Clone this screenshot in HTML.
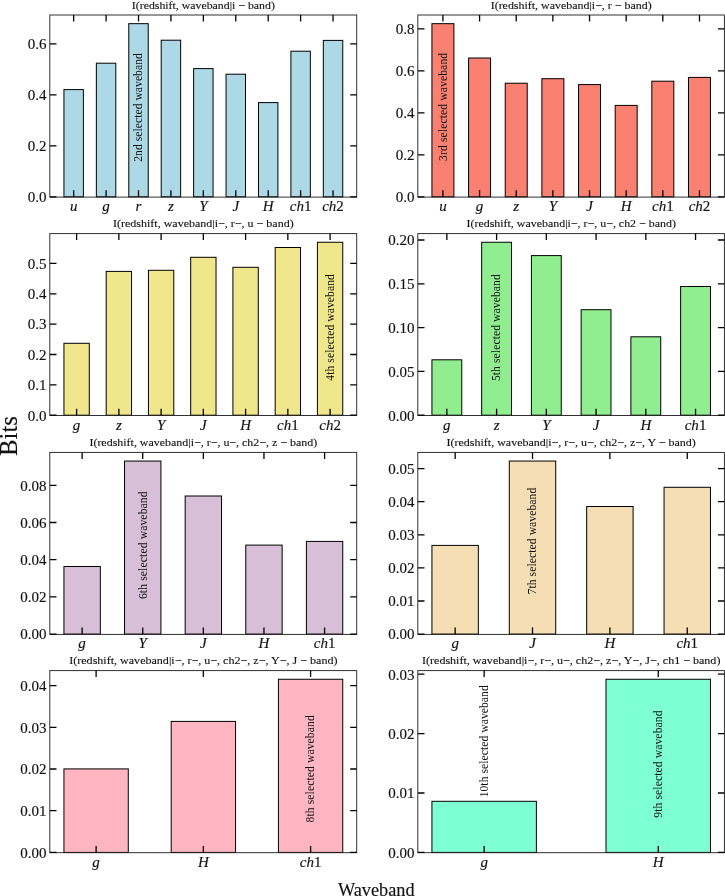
<!DOCTYPE html>
<html><head><meta charset="utf-8"><title>Waveband selection</title>
<style>
html,body{margin:0;padding:0;background:#fff;}
svg{display:block;}
text{font-family:"Liberation Serif",serif;fill:#111;stroke:#111;stroke-width:0.15px;}
.tl{font-size:15.0px;}
.tt{font-size:11.0px;stroke-width:0.12px;}
.ann{font-size:11.6px;stroke-width:0;}
.big{font-size:21px;}
</style></head><body>
<svg width="725" height="896" viewBox="0 0 725 896">
<rect width="725" height="896" fill="#fff"/>
<rect x="63.94" y="89.6" width="19.45" height="107.2" fill="#add8e6" stroke="#000" stroke-width="1.0"/>
<rect x="96.36" y="63.2" width="19.45" height="133.6" fill="#add8e6" stroke="#000" stroke-width="1.0"/>
<rect x="128.78" y="23.66" width="19.45" height="173.14" fill="#add8e6" stroke="#000" stroke-width="1.0"/>
<rect x="161.2" y="40.2" width="19.45" height="156.6" fill="#add8e6" stroke="#000" stroke-width="1.0"/>
<rect x="193.62" y="68.6" width="19.45" height="128.2" fill="#add8e6" stroke="#000" stroke-width="1.0"/>
<rect x="226.04" y="74.2" width="19.45" height="122.6" fill="#add8e6" stroke="#000" stroke-width="1.0"/>
<rect x="258.47" y="102.6" width="19.45" height="94.2" fill="#add8e6" stroke="#000" stroke-width="1.0"/>
<rect x="290.89" y="51.2" width="19.45" height="145.6" fill="#add8e6" stroke="#000" stroke-width="1.0"/>
<rect x="323.31" y="40.4" width="19.45" height="156.4" fill="#add8e6" stroke="#000" stroke-width="1.0"/>
<text class="ann" transform="translate(142.31,107.5) rotate(-90)" text-anchor="middle" textLength="108.6" lengthAdjust="spacing">2nd selected waveband</text>
<rect x="49.8" y="15" width="306.9" height="182.1" fill="none" stroke="#262626" stroke-width="0.95"/>
<path d="M73.67 196.8v-6.5M73.67 15v6.5M106.09 196.8v-6.5M106.09 15v6.5M138.51 196.8v-6.5M138.51 15v6.5M170.93 196.8v-6.5M170.93 15v6.5M203.35 196.8v-6.5M203.35 15v6.5M235.77 196.8v-6.5M235.77 15v6.5M268.19 196.8v-6.5M268.19 15v6.5M300.61 196.8v-6.5M300.61 15v6.5M333.03 196.8v-6.5M333.03 15v6.5M50 196.8h6.5M356.7 196.8h-6.5M50 145.8h6.5M356.7 145.8h-6.5M50 94.8h6.5M356.7 94.8h-6.5M50 43.8h6.5M356.7 43.8h-6.5" stroke="#000" stroke-width="1.3" fill="none"/>
<text class="tl" x="46.4" y="202.1" text-anchor="end">0.0</text>
<text class="tl" x="46.4" y="151.1" text-anchor="end">0.2</text>
<text class="tl" x="46.4" y="100.1" text-anchor="end">0.4</text>
<text class="tl" x="46.4" y="49.1" text-anchor="end">0.6</text>
<text class="tl" x="73.67" y="211.1" text-anchor="middle" font-style="italic">u</text>
<text class="tl" x="106.09" y="211.1" text-anchor="middle" font-style="italic">g</text>
<text class="tl" x="138.51" y="211.1" text-anchor="middle" font-style="italic">r</text>
<text class="tl" x="170.93" y="211.1" text-anchor="middle" font-style="italic">z</text>
<text class="tl" x="203.35" y="211.1" text-anchor="middle" font-style="italic">Y</text>
<text class="tl" x="235.77" y="211.1" text-anchor="middle" font-style="italic">J</text>
<text class="tl" x="268.19" y="211.1" text-anchor="middle" font-style="italic">H</text>
<text class="tl" x="300.61" y="211.1" text-anchor="middle"><tspan font-style="italic">ch</tspan>1</text>
<text class="tl" x="333.03" y="211.1" text-anchor="middle"><tspan font-style="italic">ch</tspan>2</text>
<text class="tt" x="203.35" y="8.5" text-anchor="middle" textLength="143" lengthAdjust="spacingAndGlyphs">I(redshift, waveband|i − band)</text>
<rect x="431.93" y="23.66" width="21.99" height="173.14" fill="#fa8072" stroke="#000" stroke-width="1.0"/>
<rect x="468.58" y="58" width="21.99" height="138.8" fill="#fa8072" stroke="#000" stroke-width="1.0"/>
<rect x="505.23" y="83.2" width="21.99" height="113.6" fill="#fa8072" stroke="#000" stroke-width="1.0"/>
<rect x="541.88" y="78.7" width="21.99" height="118.1" fill="#fa8072" stroke="#000" stroke-width="1.0"/>
<rect x="578.53" y="84.6" width="21.99" height="112.2" fill="#fa8072" stroke="#000" stroke-width="1.0"/>
<rect x="615.18" y="105.4" width="21.99" height="91.4" fill="#fa8072" stroke="#000" stroke-width="1.0"/>
<rect x="651.83" y="81.2" width="21.99" height="115.6" fill="#fa8072" stroke="#000" stroke-width="1.0"/>
<rect x="688.48" y="77.4" width="21.99" height="119.4" fill="#fa8072" stroke="#000" stroke-width="1.0"/>
<text class="ann" transform="translate(446.72,106.9) rotate(-90)" text-anchor="middle" textLength="108" lengthAdjust="spacing">3rd selected waveband</text>
<rect x="417.8" y="15" width="306.6" height="182.1" fill="none" stroke="#262626" stroke-width="0.95"/>
<path d="M442.92 196.8v-6.5M442.92 15v6.5M479.57 196.8v-6.5M479.57 15v6.5M516.22 196.8v-6.5M516.22 15v6.5M552.87 196.8v-6.5M552.87 15v6.5M589.53 196.8v-6.5M589.53 15v6.5M626.18 196.8v-6.5M626.18 15v6.5M662.83 196.8v-6.5M662.83 15v6.5M699.48 196.8v-6.5M699.48 15v6.5M418 196.8h6.5M724.4 196.8h-6.5M418 154.8h6.5M724.4 154.8h-6.5M418 112.8h6.5M724.4 112.8h-6.5M418 70.8h6.5M724.4 70.8h-6.5M418 28.8h6.5M724.4 28.8h-6.5" stroke="#000" stroke-width="1.3" fill="none"/>
<text class="tl" x="414.4" y="202.1" text-anchor="end">0.0</text>
<text class="tl" x="414.4" y="160.1" text-anchor="end">0.2</text>
<text class="tl" x="414.4" y="118.1" text-anchor="end">0.4</text>
<text class="tl" x="414.4" y="76.1" text-anchor="end">0.6</text>
<text class="tl" x="414.4" y="34.1" text-anchor="end">0.8</text>
<text class="tl" x="442.92" y="211.1" text-anchor="middle" font-style="italic">u</text>
<text class="tl" x="479.57" y="211.1" text-anchor="middle" font-style="italic">g</text>
<text class="tl" x="516.22" y="211.1" text-anchor="middle" font-style="italic">z</text>
<text class="tl" x="552.87" y="211.1" text-anchor="middle" font-style="italic">Y</text>
<text class="tl" x="589.53" y="211.1" text-anchor="middle" font-style="italic">J</text>
<text class="tl" x="626.18" y="211.1" text-anchor="middle" font-style="italic">H</text>
<text class="tl" x="662.83" y="211.1" text-anchor="middle"><tspan font-style="italic">ch</tspan>1</text>
<text class="tl" x="699.48" y="211.1" text-anchor="middle"><tspan font-style="italic">ch</tspan>2</text>
<text class="tt" x="571.2" y="8.5" text-anchor="middle" textLength="161" lengthAdjust="spacingAndGlyphs">I(redshift, waveband|i−, r − band)</text>
<rect x="63.94" y="343.3" width="25.35" height="71.9" fill="#f0e68c" stroke="#000" stroke-width="1.0"/>
<rect x="106.19" y="271.4" width="25.35" height="143.8" fill="#f0e68c" stroke="#000" stroke-width="1.0"/>
<rect x="148.43" y="270.3" width="25.35" height="144.9" fill="#f0e68c" stroke="#000" stroke-width="1.0"/>
<rect x="190.68" y="257.3" width="25.35" height="157.9" fill="#f0e68c" stroke="#000" stroke-width="1.0"/>
<rect x="232.92" y="267.3" width="25.35" height="147.9" fill="#f0e68c" stroke="#000" stroke-width="1.0"/>
<rect x="275.17" y="247.5" width="25.35" height="167.7" fill="#f0e68c" stroke="#000" stroke-width="1.0"/>
<rect x="317.41" y="242.25" width="25.35" height="172.95" fill="#f0e68c" stroke="#000" stroke-width="1.0"/>
<text class="ann" transform="translate(333.89,327.45) rotate(-90)" text-anchor="middle" textLength="106.5" lengthAdjust="spacing">4th selected waveband</text>
<rect x="49.8" y="233.6" width="306.9" height="181.9" fill="none" stroke="#262626" stroke-width="0.95"/>
<path d="M76.61 415.2v-6.5M76.61 233.6v6.5M118.86 415.2v-6.5M118.86 233.6v6.5M161.1 415.2v-6.5M161.1 233.6v6.5M203.35 415.2v-6.5M203.35 233.6v6.5M245.6 415.2v-6.5M245.6 233.6v6.5M287.84 415.2v-6.5M287.84 233.6v6.5M330.09 415.2v-6.5M330.09 233.6v6.5M50 415.2h6.5M356.7 415.2h-6.5M50 384.85h6.5M356.7 384.85h-6.5M50 354.5h6.5M356.7 354.5h-6.5M50 324.15h6.5M356.7 324.15h-6.5M50 293.8h6.5M356.7 293.8h-6.5M50 263.45h6.5M356.7 263.45h-6.5" stroke="#000" stroke-width="1.3" fill="none"/>
<text class="tl" x="46.4" y="420.5" text-anchor="end">0.0</text>
<text class="tl" x="46.4" y="390.15" text-anchor="end">0.1</text>
<text class="tl" x="46.4" y="359.8" text-anchor="end">0.2</text>
<text class="tl" x="46.4" y="329.45" text-anchor="end">0.3</text>
<text class="tl" x="46.4" y="299.1" text-anchor="end">0.4</text>
<text class="tl" x="46.4" y="268.75" text-anchor="end">0.5</text>
<text class="tl" x="76.61" y="429.5" text-anchor="middle" font-style="italic">g</text>
<text class="tl" x="118.86" y="429.5" text-anchor="middle" font-style="italic">z</text>
<text class="tl" x="161.1" y="429.5" text-anchor="middle" font-style="italic">Y</text>
<text class="tl" x="203.35" y="429.5" text-anchor="middle" font-style="italic">J</text>
<text class="tl" x="245.6" y="429.5" text-anchor="middle" font-style="italic">H</text>
<text class="tl" x="287.84" y="429.5" text-anchor="middle"><tspan font-style="italic">ch</tspan>1</text>
<text class="tl" x="330.09" y="429.5" text-anchor="middle"><tspan font-style="italic">ch</tspan>2</text>
<text class="tt" x="203.35" y="227.1" text-anchor="middle" textLength="180.6" lengthAdjust="spacingAndGlyphs">I(redshift, waveband|i−, r−, u − band)</text>
<rect x="431.93" y="359.8" width="29.84" height="55.4" fill="#90ee90" stroke="#000" stroke-width="1.0"/>
<rect x="481.67" y="242.25" width="29.84" height="172.95" fill="#90ee90" stroke="#000" stroke-width="1.0"/>
<rect x="531.41" y="255.6" width="29.84" height="159.6" fill="#90ee90" stroke="#000" stroke-width="1.0"/>
<rect x="581.15" y="309.7" width="29.84" height="105.5" fill="#90ee90" stroke="#000" stroke-width="1.0"/>
<rect x="630.89" y="336.8" width="29.84" height="78.4" fill="#90ee90" stroke="#000" stroke-width="1.0"/>
<rect x="680.63" y="286.5" width="29.84" height="128.7" fill="#90ee90" stroke="#000" stroke-width="1.0"/>
<text class="ann" transform="translate(500.39,327.65) rotate(-90)" text-anchor="middle" textLength="106.9" lengthAdjust="spacing">5th selected waveband</text>
<rect x="417.8" y="233.6" width="306.6" height="181.9" fill="none" stroke="#262626" stroke-width="0.95"/>
<path d="M446.85 415.2v-6.5M446.85 233.6v6.5M496.59 415.2v-6.5M496.59 233.6v6.5M546.33 415.2v-6.5M546.33 233.6v6.5M596.07 415.2v-6.5M596.07 233.6v6.5M645.81 415.2v-6.5M645.81 233.6v6.5M695.55 415.2v-6.5M695.55 233.6v6.5M418 415.2h6.5M724.4 415.2h-6.5M418 371.4h6.5M724.4 371.4h-6.5M418 327.6h6.5M724.4 327.6h-6.5M418 283.8h6.5M724.4 283.8h-6.5M418 240h6.5M724.4 240h-6.5" stroke="#000" stroke-width="1.3" fill="none"/>
<text class="tl" x="414.4" y="420.5" text-anchor="end">0.00</text>
<text class="tl" x="414.4" y="376.7" text-anchor="end">0.05</text>
<text class="tl" x="414.4" y="332.9" text-anchor="end">0.10</text>
<text class="tl" x="414.4" y="289.1" text-anchor="end">0.15</text>
<text class="tl" x="414.4" y="245.3" text-anchor="end">0.20</text>
<text class="tl" x="446.85" y="429.5" text-anchor="middle" font-style="italic">g</text>
<text class="tl" x="496.59" y="429.5" text-anchor="middle" font-style="italic">z</text>
<text class="tl" x="546.33" y="429.5" text-anchor="middle" font-style="italic">Y</text>
<text class="tl" x="596.07" y="429.5" text-anchor="middle" font-style="italic">J</text>
<text class="tl" x="645.81" y="429.5" text-anchor="middle" font-style="italic">H</text>
<text class="tl" x="695.55" y="429.5" text-anchor="middle"><tspan font-style="italic">ch</tspan>1</text>
<text class="tt" x="571.2" y="227.1" text-anchor="middle" textLength="209.4" lengthAdjust="spacingAndGlyphs">I(redshift, waveband|i−, r−, u−, ch2 − band)</text>
<rect x="63.94" y="566.5" width="36.37" height="67.6" fill="#d8bfd8" stroke="#000" stroke-width="1.0"/>
<rect x="124.55" y="461.05" width="36.37" height="173.05" fill="#d8bfd8" stroke="#000" stroke-width="1.0"/>
<rect x="185.17" y="496" width="36.37" height="138.1" fill="#d8bfd8" stroke="#000" stroke-width="1.0"/>
<rect x="245.78" y="545.1" width="36.37" height="89" fill="#d8bfd8" stroke="#000" stroke-width="1.0"/>
<rect x="306.39" y="541.4" width="36.37" height="92.7" fill="#d8bfd8" stroke="#000" stroke-width="1.0"/>
<text class="ann" transform="translate(146.54,545.25) rotate(-90)" text-anchor="middle" textLength="107.7" lengthAdjust="spacing">6th selected waveband</text>
<rect x="49.8" y="452.4" width="306.9" height="182" fill="none" stroke="#262626" stroke-width="0.95"/>
<path d="M82.12 634.1v-6.5M82.12 452.4v6.5M142.74 634.1v-6.5M142.74 452.4v6.5M203.35 634.1v-6.5M203.35 452.4v6.5M263.96 634.1v-6.5M263.96 452.4v6.5M324.58 634.1v-6.5M324.58 452.4v6.5M50 634.1h6.5M356.7 634.1h-6.5M50 596.9h6.5M356.7 596.9h-6.5M50 559.7h6.5M356.7 559.7h-6.5M50 522.5h6.5M356.7 522.5h-6.5M50 485.3h6.5M356.7 485.3h-6.5" stroke="#000" stroke-width="1.3" fill="none"/>
<text class="tl" x="46.4" y="639.4" text-anchor="end">0.00</text>
<text class="tl" x="46.4" y="602.2" text-anchor="end">0.02</text>
<text class="tl" x="46.4" y="565" text-anchor="end">0.04</text>
<text class="tl" x="46.4" y="527.8" text-anchor="end">0.06</text>
<text class="tl" x="46.4" y="490.6" text-anchor="end">0.08</text>
<text class="tl" x="82.12" y="648.4" text-anchor="middle" font-style="italic">g</text>
<text class="tl" x="142.74" y="648.4" text-anchor="middle" font-style="italic">Y</text>
<text class="tl" x="203.35" y="648.4" text-anchor="middle" font-style="italic">J</text>
<text class="tl" x="263.96" y="648.4" text-anchor="middle" font-style="italic">H</text>
<text class="tl" x="324.58" y="648.4" text-anchor="middle"><tspan font-style="italic">ch</tspan>1</text>
<text class="tt" x="203.35" y="445.9" text-anchor="middle" textLength="227.8" lengthAdjust="spacingAndGlyphs">I(redshift, waveband|i−, r−, u−, ch2−, z − band)</text>
<rect x="431.93" y="545.4" width="46.42" height="88.7" fill="#f5deb3" stroke="#000" stroke-width="1.0"/>
<rect x="509.3" y="461.05" width="46.42" height="173.05" fill="#f5deb3" stroke="#000" stroke-width="1.0"/>
<rect x="586.67" y="506.5" width="46.42" height="127.6" fill="#f5deb3" stroke="#000" stroke-width="1.0"/>
<rect x="664.05" y="487.3" width="46.42" height="146.8" fill="#f5deb3" stroke="#000" stroke-width="1.0"/>
<text class="ann" transform="translate(536.31,541.1) rotate(-90)" text-anchor="middle" textLength="106.8" lengthAdjust="spacing">7th selected waveband</text>
<rect x="417.8" y="452.4" width="306.6" height="182" fill="none" stroke="#262626" stroke-width="0.95"/>
<path d="M455.14 634.1v-6.5M455.14 452.4v6.5M532.51 634.1v-6.5M532.51 452.4v6.5M609.89 634.1v-6.5M609.89 452.4v6.5M687.26 634.1v-6.5M687.26 452.4v6.5M418 634.1h6.5M724.4 634.1h-6.5M418 601h6.5M724.4 601h-6.5M418 567.9h6.5M724.4 567.9h-6.5M418 534.8h6.5M724.4 534.8h-6.5M418 501.7h6.5M724.4 501.7h-6.5M418 468.6h6.5M724.4 468.6h-6.5" stroke="#000" stroke-width="1.3" fill="none"/>
<text class="tl" x="414.4" y="639.4" text-anchor="end">0.00</text>
<text class="tl" x="414.4" y="606.3" text-anchor="end">0.01</text>
<text class="tl" x="414.4" y="573.2" text-anchor="end">0.02</text>
<text class="tl" x="414.4" y="540.1" text-anchor="end">0.03</text>
<text class="tl" x="414.4" y="507" text-anchor="end">0.04</text>
<text class="tl" x="414.4" y="473.9" text-anchor="end">0.05</text>
<text class="tl" x="455.14" y="648.4" text-anchor="middle" font-style="italic">g</text>
<text class="tl" x="532.51" y="648.4" text-anchor="middle" font-style="italic">J</text>
<text class="tl" x="609.89" y="648.4" text-anchor="middle" font-style="italic">H</text>
<text class="tl" x="687.26" y="648.4" text-anchor="middle"><tspan font-style="italic">ch</tspan>1</text>
<text class="tt" x="571.2" y="445.9" text-anchor="middle" textLength="249.3" lengthAdjust="spacingAndGlyphs">I(redshift, waveband|i−, r−, u−, ch2−, z−, Y − band)</text>
<rect x="63.94" y="768.9" width="64.34" height="83.5" fill="#ffb6c1" stroke="#000" stroke-width="1.0"/>
<rect x="171.18" y="721.4" width="64.34" height="131" fill="#ffb6c1" stroke="#000" stroke-width="1.0"/>
<rect x="278.42" y="679.26" width="64.34" height="173.14" fill="#ffb6c1" stroke="#000" stroke-width="1.0"/>
<text class="ann" transform="translate(314.39,768.9) rotate(-90)" text-anchor="middle" textLength="107.2" lengthAdjust="spacing">8th selected waveband</text>
<rect x="49.8" y="670.6" width="306.9" height="182.1" fill="none" stroke="#262626" stroke-width="0.95"/>
<path d="M96.11 852.4v-6.5M96.11 670.6v6.5M203.35 852.4v-6.5M203.35 670.6v6.5M310.59 852.4v-6.5M310.59 670.6v6.5M50 852.4h6.5M356.7 852.4h-6.5M50 810.7h6.5M356.7 810.7h-6.5M50 769h6.5M356.7 769h-6.5M50 727.3h6.5M356.7 727.3h-6.5M50 685.6h6.5M356.7 685.6h-6.5" stroke="#000" stroke-width="1.3" fill="none"/>
<text class="tl" x="46.4" y="857.7" text-anchor="end">0.00</text>
<text class="tl" x="46.4" y="816" text-anchor="end">0.01</text>
<text class="tl" x="46.4" y="774.3" text-anchor="end">0.02</text>
<text class="tl" x="46.4" y="732.6" text-anchor="end">0.03</text>
<text class="tl" x="46.4" y="690.9" text-anchor="end">0.04</text>
<text class="tl" x="96.11" y="866.7" text-anchor="middle" font-style="italic">g</text>
<text class="tl" x="203.35" y="866.7" text-anchor="middle" font-style="italic">H</text>
<text class="tl" x="310.59" y="866.7" text-anchor="middle"><tspan font-style="italic">ch</tspan>1</text>
<text class="tt" x="203.35" y="664.1" text-anchor="middle" textLength="268.2" lengthAdjust="spacingAndGlyphs">I(redshift, waveband|i−, r−, u−, ch2−, z−, Y−, J − band)</text>
<rect x="431.93" y="801.3" width="104.45" height="51.1" fill="#7fffd4" stroke="#000" stroke-width="1.0"/>
<rect x="606.02" y="679.26" width="104.45" height="173.14" fill="#7fffd4" stroke="#000" stroke-width="1.0"/>
<text class="ann" transform="translate(487.95,741.3) rotate(-90)" text-anchor="middle" textLength="112.1" lengthAdjust="spacing">10th selected waveband</text>
<text class="ann" transform="translate(662.05,764.1) rotate(-90)" text-anchor="middle" textLength="107.2" lengthAdjust="spacing">9th selected waveband</text>
<rect x="417.8" y="670.6" width="306.6" height="182.1" fill="none" stroke="#262626" stroke-width="0.95"/>
<path d="M484.15 852.4v-6.5M484.15 670.6v6.5M658.25 852.4v-6.5M658.25 670.6v6.5M418 852.4h6.5M724.4 852.4h-6.5M418 793h6.5M724.4 793h-6.5M418 733.6h6.5M724.4 733.6h-6.5M418 674.2h6.5M724.4 674.2h-6.5" stroke="#000" stroke-width="1.3" fill="none"/>
<text class="tl" x="414.4" y="857.7" text-anchor="end">0.00</text>
<text class="tl" x="414.4" y="798.3" text-anchor="end">0.01</text>
<text class="tl" x="414.4" y="738.9" text-anchor="end">0.02</text>
<text class="tl" x="414.4" y="679.5" text-anchor="end">0.03</text>
<text class="tl" x="484.15" y="866.7" text-anchor="middle" font-style="italic">g</text>
<text class="tl" x="658.25" y="866.7" text-anchor="middle" font-style="italic">H</text>
<text class="tt" x="571.2" y="664.1" text-anchor="middle" textLength="298.4" lengthAdjust="spacingAndGlyphs">I(redshift, waveband|i−, r−, u−, ch2−, z−, Y−, J−, ch1 − band)</text>
<text class="big" x="376.3" y="896.2" text-anchor="middle" style="font-size:18.25px">Waveband</text>
<text class="big" transform="translate(16.7,436) rotate(-90)" text-anchor="middle" style="font-size:24.8px">Bits</text>
</svg>
</body></html>
